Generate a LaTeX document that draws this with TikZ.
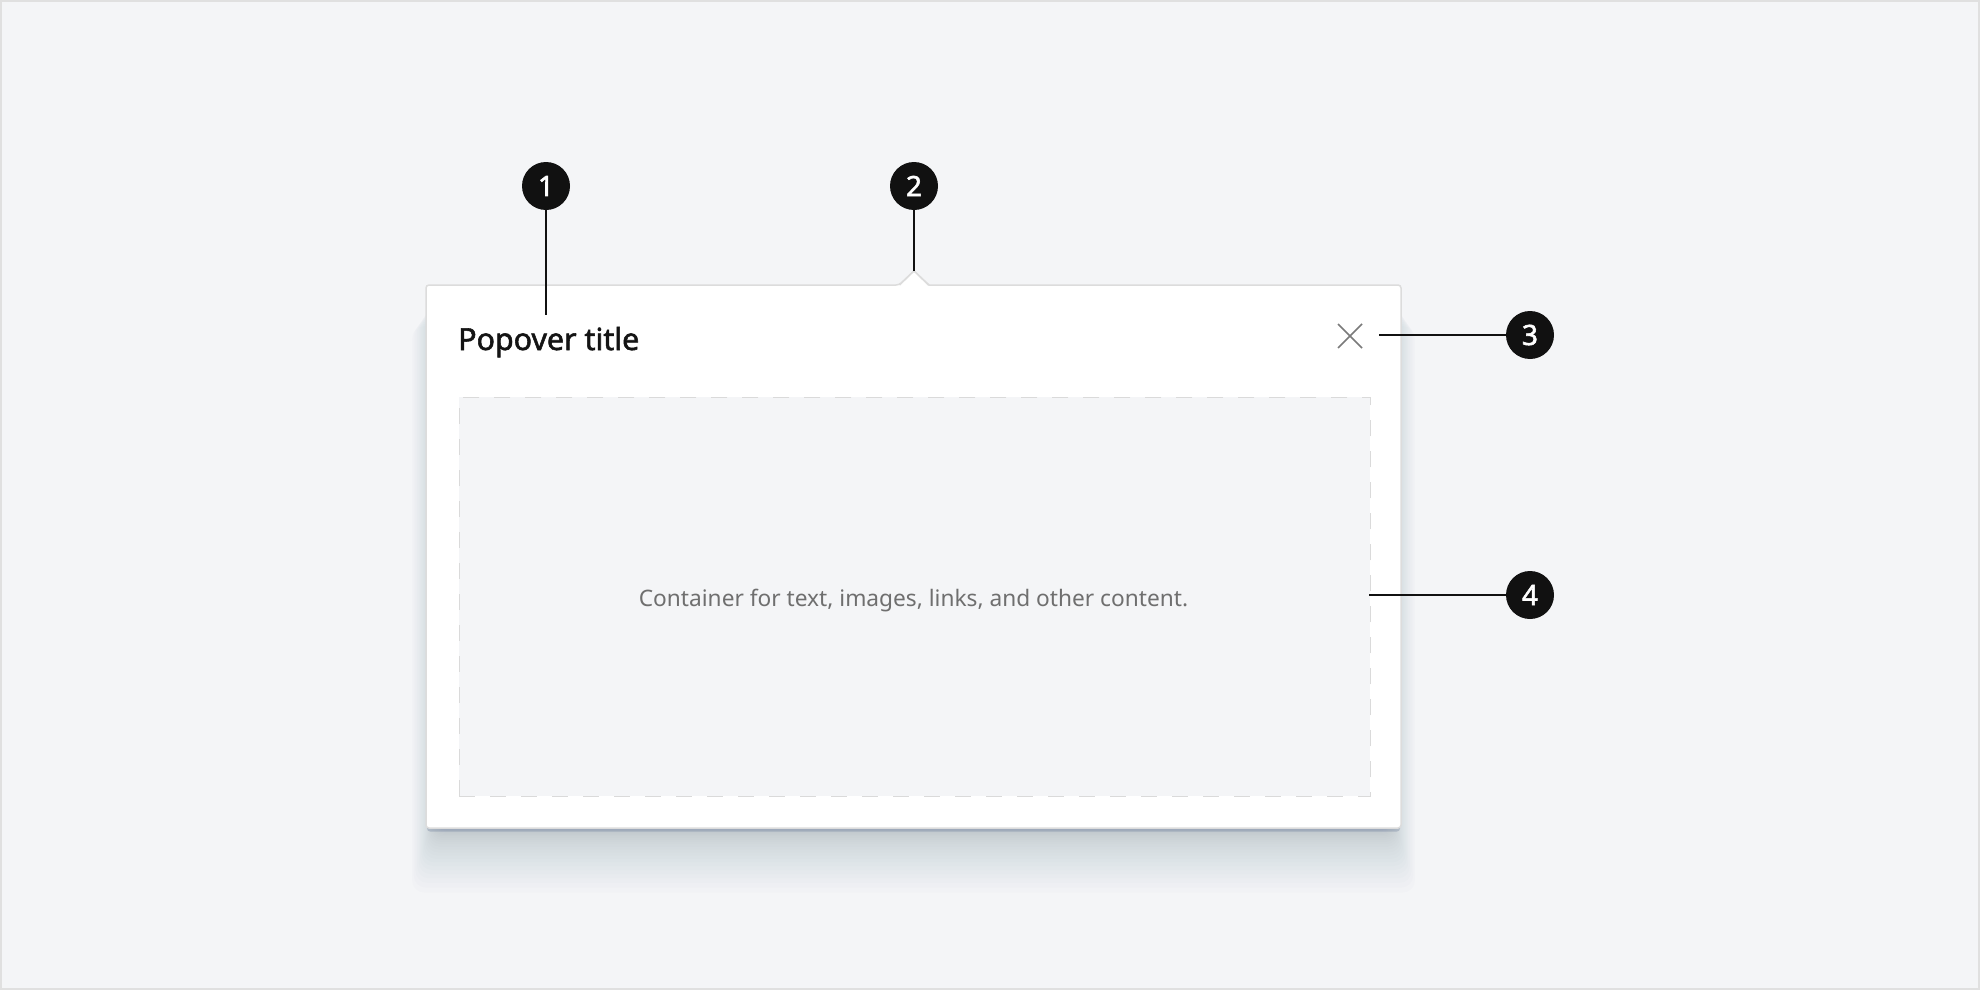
\documentclass[tikz,border=0pt]{standalone}
\usepackage{fontspec}
\setmainfont{Noto Sans}
\newfontfamily\medfont{Noto Sans}[FakeBold=1.8]
\newfontfamily\digitfont{Noto Sans}[FakeBold=2]
\definecolor{bgc}{HTML}{F4F5F7}
\definecolor{framec}{HTML}{E0E0E0}
\definecolor{boxborder}{HTML}{DCDCDC}
\definecolor{dashc}{HTML}{DADADA}
\definecolor{inkc}{HTML}{111111}
\definecolor{titlec}{HTML}{141414}
\definecolor{bodyc}{HTML}{6F6F6F}
\definecolor{iconc}{HTML}{7A7A7A}
\definecolor{shadowc}{HTML}{5F7293}
\tikzset{
  badge/.style={circle, fill=inkc, minimum size=48pt, inner sep=0pt, text=white, font=\digitfont\fontsize{28}{30}\selectfont},
  leader/.style={draw=inkc, line width=2pt},
}
\begin{document}
\begin{tikzpicture}[x=1pt,y=-1pt]
\useasboundingbox (0,0) rectangle (1980,990);
\fill[bgc] (0,0) rectangle (1980,990);
\draw[framec, line width=2pt] (1,1) rectangle (1979,989);
% broad soft shadow (below and at the sides only)
\foreach \i in {1,...,25}{
  \fill[shadowc, opacity=0.014, rounded corners=12pt]
    ({434-0.035*\i*\i},{295+0.05*\i*\i}) rectangle ({1393+0.035*\i*\i},{830+0.1*\i*\i});
}
% tight shadow
\fill[shadowc, opacity=0.3, rounded corners=3pt] (427,300) rectangle (1400,831.5);
% popover box with caret
\coordinate (tip) at (914,271);
\filldraw[fill=white, draw=boxborder, line width=1.5pt, rounded corners=3pt]
  (426,285) -- (899,285) [sharp corners] -- (tip) -- (929,285) [rounded corners=3pt] -- (1401,285)
  -- (1401,828) -- (426,828) -- cycle;
\fill[white] (900,286) -- (tip) -- (928,286) -- cycle;
\draw[boxborder, line width=1.5pt] (899.5,285) -- (tip) -- (928.5,285);
% content container
\node[draw=dashc, fill=bgc, line width=1.5pt, dash pattern=on 16pt off 15pt,
      minimum width=911pt, minimum height=399pt, inner sep=0pt, anchor=north west] (content) at (458.5,396.5) {};
\node[anchor=base, text=bodyc, font=\fontsize{22.7}{28}\selectfont, inner sep=0pt] (body) at (913.5,606)
  {Container for text, images, links, and other content.};
% title
\node[anchor=base west, text=titlec, font=\medfont\fontsize{30.4}{36}\selectfont, inner sep=0pt] (title) at (458,350) {Popover title};
% close icon
\draw[iconc, line width=1.6pt] (1338,324) -- (1362,348);
\draw[iconc, line width=1.6pt] (1338,348) -- (1362,324);
\coordinate (closeend) at (1379,335);
\coordinate (titletop) at (546,315);
\coordinate (contentedge) at (1369,595);
% badges
\node[badge] (b1) at (546,186) {1};
\node[badge] (b2) at (914,186) {2};
\node[badge] (b3) at (1530,335) {3};
\node[badge] (b4) at (1530,595) {4};
\draw[leader] (b1.south) -- (titletop);
\draw[leader] (b2.south) -- (tip);
\draw[leader] (closeend) -- (b3.west);
\draw[leader] (contentedge) -- (b4.west);
\end{tikzpicture}
\end{document}
